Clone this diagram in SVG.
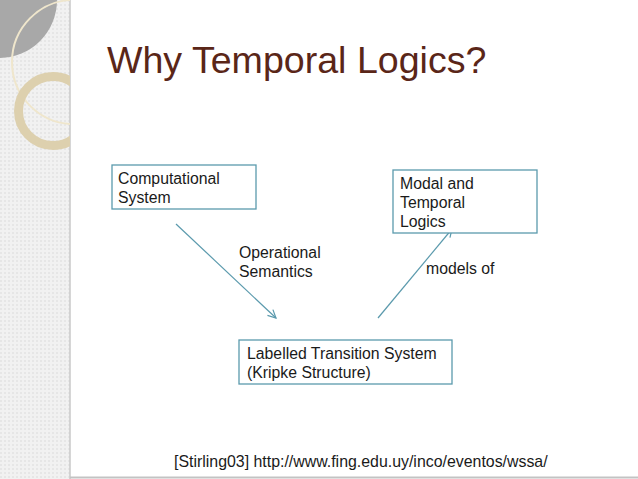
<svg xmlns="http://www.w3.org/2000/svg" width="638" height="479" viewBox="0 0 638 479">
<defs>
<style>
.box{fill:#ffffff;stroke:#5b9aad;stroke-width:1.3}
.t{font-family:"Liberation Sans",Arial,sans-serif;font-size:15.8px;fill:#1a1a1a}
.conn{stroke:#5b9aad;stroke-width:1.2;fill:none;marker-end:url(#ah)}
</style>
<marker id="ah" viewBox="0 0 10 10" refX="9" refY="5" markerWidth="10" markerHeight="10" markerUnits="userSpaceOnUse" orient="auto">
<path d="M1,1 L9,5 L1,9" fill="none" stroke="#5b9aad" stroke-width="1.2"/>
</marker>
<pattern id="dots" width="4" height="4" patternUnits="userSpaceOnUse">
<rect width="4" height="4" fill="#f1f1f1"/>
<rect width="2" height="2" fill="#e6e6e6"/>
</pattern>
<clipPath id="strip"><rect x="0" y="0" width="70" height="479"/></clipPath>
</defs>
<rect width="638" height="479" fill="#ffffff"/>
<g id="decoration">
<rect x="0" y="0" width="70" height="479" fill="url(#dots)"/>
<line x1="70" y1="0" x2="70" y2="479" stroke="#c9c9c9" stroke-width="1.5"/>
<line x1="70" y1="477.5" x2="638" y2="477.5" stroke="#c3c3c3" stroke-width="2"/>
<g clip-path="url(#strip)">
<path d="M0,0 L57,0 A58,58 0 0 1 0,58 Z" fill="#a8a8a8"/>
<circle cx="74" cy="62" r="62" fill="none" stroke="#efe6cc" stroke-width="2"/>
<circle cx="53" cy="111" r="34.5" fill="none" stroke="#ddd0ae" stroke-width="9"/>
</g>
</g>
<text id="title" x="107" y="73" font-family="'Liberation Sans',Arial,sans-serif" font-size="37.6" fill="#5a2618">Why Temporal Logics?</text>
<g id="connectors">
<line class="conn" x1="176" y1="224" x2="276" y2="318"/>
<line class="conn" x1="378" y1="318" x2="452" y2="229"/>
<text class="t" x="239" y="258">Operational</text>
<text class="t" x="239" y="277">Semantics</text>
<text class="t" x="426" y="274">models of</text>
</g>
<g id="computational">
<rect class="box" x="112" y="165" width="144" height="44"/>
<text class="t" x="118" y="184">Computational</text>
<text class="t" x="118" y="203">System</text>
</g>
<g id="modal">
<rect class="box" x="393" y="170" width="144" height="63"/>
<text class="t" x="400" y="189">Modal and</text>
<text class="t" x="400" y="208">Temporal</text>
<text class="t" x="400" y="227">Logics</text>
</g>
<g id="lts">
<rect class="box" x="239" y="340" width="213" height="44"/>
<text class="t" x="247" y="359">Labelled Transition System</text>
<text class="t" x="247" y="378">(Kripke Structure)</text>
</g>
<text id="footer" x="174" y="467" font-family="'Liberation Sans',Arial,sans-serif" font-size="15.9" fill="#1a1a1a">[Stirling03] http://www.fing.edu.uy/inco/eventos/wssa/</text>
</svg>
